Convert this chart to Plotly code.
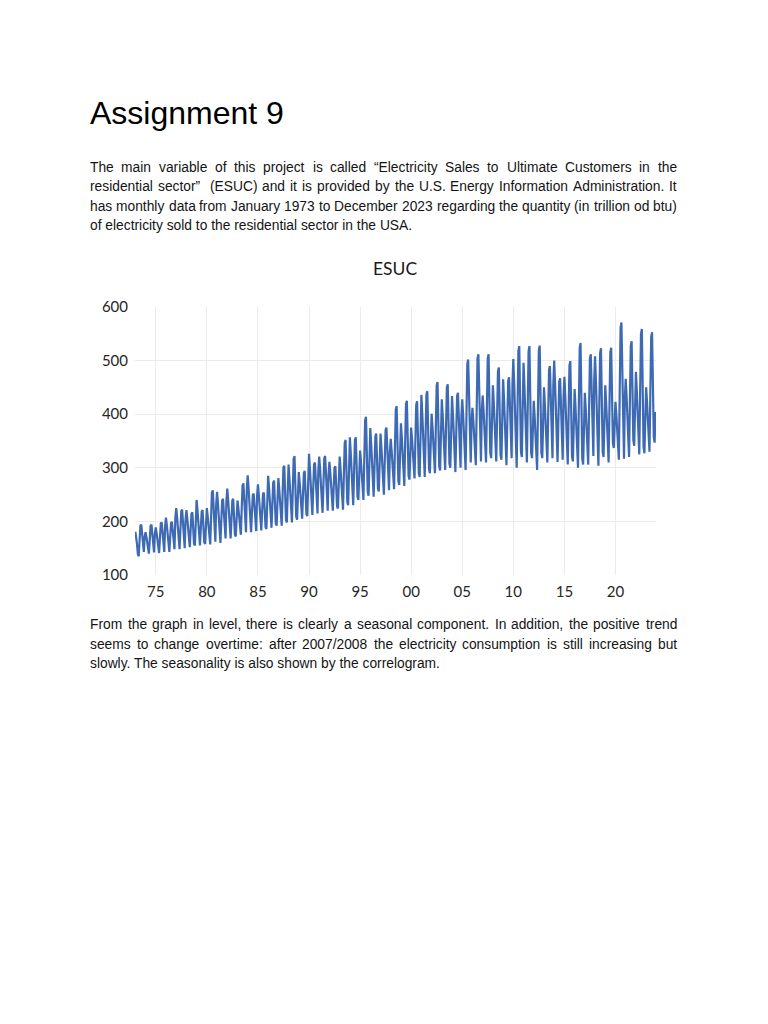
import pandas as pd
import plotly.graph_objects as go

# ---------------- data (monthly ESUC, trillion Btu) ----------------
esuc_1973_1979 = [
    181, 171, 158, 139, 135, 164, 192, 194, 175, 146, 143, 171,
    180, 171, 160, 143, 140, 167, 192, 194, 174, 145, 142, 177,
    189, 178, 165, 145, 141, 170, 196, 198, 177, 146, 143, 191,
    207, 193, 175, 148, 143, 171, 197, 199, 180, 151, 148, 206,
    225, 208, 186, 154, 148, 185, 219, 222, 195, 154, 150, 203,
    221, 206, 186, 158, 152, 184, 214, 217, 193, 158, 155, 219,
    240, 221, 197, 162, 155, 188, 218, 221, 197, 161, 158, 208,
]
esuc_1980_1989 = [
    225, 210, 191, 162, 157, 207, 254, 258, 222, 167, 162, 232,
    255, 234, 207, 168, 160, 201, 239, 242, 214, 172, 168, 238,
    261, 241, 214, 175, 168, 205, 239, 242, 215, 175, 172, 222,
    239, 225, 207, 180, 175, 223, 267, 271, 236, 185, 180, 260,
    286, 263, 233, 188, 180, 216, 249, 252, 225, 186, 182, 247,
    269, 250, 226, 190, 183, 219, 251, 254, 228, 189, 186, 260,
    285, 264, 237, 196, 188, 232, 272, 276, 244, 196, 192, 259,
    281, 261, 237, 199, 192, 248, 300, 304, 264, 203, 198, 279,
    306, 282, 252, 207, 198, 260, 317, 322, 277, 209, 203, 270,
    292, 273, 249, 212, 205, 250, 290, 294, 262, 214, 210, 297,
]
esuc_1990_1999 = [
    326, 301, 269, 221, 212, 261, 306, 310, 274, 220, 215, 295,
    321, 298, 269, 224, 216, 269, 318, 322, 283, 225, 220, 288,
    311, 291, 266, 227, 220, 262, 300, 303, 273, 228, 224, 297,
    321, 299, 272, 230, 222, 287, 347, 352, 306, 236, 230, 325,
    357, 329, 294, 240, 230, 294, 352, 357, 313, 246, 240, 309,
    332, 312, 286, 247, 240, 318, 389, 395, 339, 255, 248, 343,
    374, 346, 310, 256, 246, 305, 359, 364, 323, 261, 256, 337,
    364, 339, 307, 259, 250, 313, 370, 375, 331, 264, 258, 330,
    354, 333, 307, 268, 260, 338, 409, 415, 359, 275, 268, 354,
    383, 357, 325, 275, 266, 346, 419, 425, 369, 285, 278, 351,
]
esuc_2000_2009 = [
    375, 354, 328, 288, 280, 352, 418, 424, 370, 290, 283, 398,
    436, 402, 360, 295, 283, 363, 437, 443, 385, 298, 290, 373,
    401, 377, 346, 299, 290, 375, 453, 460, 397, 303, 295, 395,
    428, 399, 362, 307, 296, 376, 450, 456, 397, 308, 300, 400,
    434, 403, 363, 303, 292, 366, 434, 440, 387, 307, 300, 396,
    428, 399, 362, 307, 296, 399, 494, 502, 429, 320, 310, 387,
    412, 388, 359, 314, 305, 409, 504, 512, 436, 322, 312, 404,
    435, 408, 373, 320, 310, 411, 504, 512, 438, 328, 318, 420,
    454, 423, 383, 323, 312, 400, 480, 487, 422, 324, 315, 428,
    465, 430, 385, 318, 305, 387, 462, 469, 412, 326, 318, 457,
]
esuc_2010_2019 = [
    503, 458, 402, 316, 300, 414, 518, 527, 448, 330, 320, 452,
    496, 455, 403, 325, 310, 419, 518, 527, 448, 328, 318, 398,
    425, 397, 361, 306, 296, 412, 519, 528, 448, 328, 318, 417,
    450, 419, 380, 321, 310, 400, 483, 490, 425, 327, 318, 455,
    500, 458, 406, 326, 311, 389, 461, 467, 409, 323, 315, 431,
    470, 434, 388, 319, 306, 403, 491, 499, 428, 321, 312, 413,
    447, 415, 374, 312, 300, 417, 524, 533, 447, 317, 306, 407,
    440, 411, 373, 317, 306, 409, 504, 512, 440, 332, 322, 462,
    508, 463, 406, 320, 304, 414, 514, 523, 446, 330, 320, 420,
    454, 422, 382, 322, 310, 417, 515, 524, 453, 346, 337, 402,
]
esuc_2020_2023 = [
    423, 399, 369, 324, 315, 443, 561, 571, 474, 330, 317, 429,
    466, 434, 393, 332, 320, 428, 527, 536, 462, 351, 341, 445,
    479, 445, 402, 337, 325, 442, 550, 559, 471, 339, 327, 419,
    450, 424, 390, 340, 330, 442, 544, 553, 475, 357, 347, 404,
]

x_tick_years = [1975, 1980, 1985, 1990, 1995, 2000, 2005, 2010, 2015, 2020]
x_tick_labels = ["75", "80", "85", "90", "95", "00", "05", "10", "15", "20"]
y_tick_values = [100, 200, 300, 400, 500, 600]
y_grid_values = [200, 300, 400, 500]

page_title = "Assignment 9"
intro_lines = [
    "The main variable of this project is called \u201cElectricity Sales to Ultimate Customers in the",
    "residential sector\u201d  (ESUC) and it is provided by the U.S. Energy Information Administration. It",
    "has monthly data from January 1973 to December 2023 regarding the quantity (in trillion od btu)",
    "of electricity sold to the residential sector in the USA.",
]
outro_lines = [
    "From the graph in level, there is clearly a seasonal component. In addition, the positive trend",
    "seems to change overtime: after 2007/2008 the electricity consumption is still increasing but",
    "slowly. The seasonality is also shown by the correlogram.",
]
chart_title = "ESUC"

# ---------------- build ----------------
esuc = (esuc_1973_1979 + esuc_1980_1989 + esuc_1990_1999 +
        esuc_2000_2009 + esuc_2010_2019 + esuc_2020_2023)
months = pd.date_range("1973-01-01", periods=len(esuc), freq="MS")

BODY_MARGIN = 8  # the html page body offsets the figure by 8px
FIG_W, FIG_H = 768 - BODY_MARGIN, 1024 - BODY_MARGIN
# plot area in screen (page) pixels
PLOT_L, PLOT_R, PLOT_T, PLOT_B = 135, 656, 307, 575


def pxx(px):
    return (px - PLOT_L) / (PLOT_R - PLOT_L)


def pxy(py):
    return (PLOT_B - py) / (PLOT_B - PLOT_T)


# Arial / Liberation Sans advance widths (per 1000 em)
AW = {' ': 278, '!': 278, '"': 355, '(': 333, ')': 333, ',': 278, '-': 333, '.': 278,
      '/': 278, ':': 278, ';': 278, '\u201c': 333, '\u201d': 333, "'": 191, '\u2019': 222}
for d in "0123456789":
    AW[d] = 556
AW.update(dict(zip("ABCDEFGHIJKLMNOPQRSTUVWXYZ",
                   [667, 667, 722, 722, 667, 611, 778, 722, 278, 500, 667, 556, 833, 722,
                    778, 667, 778, 722, 667, 611, 722, 667, 944, 667, 667, 611])))
AW.update(dict(zip("abcdefghijklmnopqrstuvwxyz",
                   [556, 556, 500, 556, 556, 278, 556, 556, 222, 222, 500, 222, 833, 556,
                    556, 556, 556, 333, 500, 278, 556, 500, 722, 500, 500, 500])))


def text_w(s, size):
    return sum(AW.get(c, 556) for c in s) * size / 1000.0


BODY_FONT = dict(family="Liberation Sans, Arial, sans-serif", size=13.8, color="#141414")
annotations = []


def add_text(text, x_px, cy_px, font, xanchor="left"):
    annotations.append(dict(text=text, x=pxx(x_px), y=pxy(cy_px), xref="paper", yref="paper",
                            xanchor=xanchor, yanchor="middle", showarrow=False,
                            font=font, borderpad=0, borderwidth=0))


def add_justified(line, cy_px, font, x0, x1):
    words = line.split(" ")
    widths = [text_w(w, font["size"]) for w in words]
    gap = (x1 - x0 - sum(widths)) / (len(words) - 1)
    x = x0
    for w, wd in zip(words, widths):
        if w:
            add_text(w, x, cy_px, font)
        x += wd + gap


TEXT_L, TEXT_R = 90, 677

add_text(page_title, TEXT_L, 113, dict(family="Liberation Sans, Arial, sans-serif", size=32, color="#000000"))

intro_y = [167, 186.5, 206, 225.5]
for i, (line, cy) in enumerate(zip(intro_lines, intro_y)):
    if i < len(intro_lines) - 1:
        add_justified(line, cy, BODY_FONT, TEXT_L, TEXT_R)
    else:
        add_text(line, TEXT_L, cy, BODY_FONT)

outro_y = [624.5, 644, 663.5]
for i, (line, cy) in enumerate(zip(outro_lines, outro_y)):
    if i < len(outro_lines) - 1:
        add_justified(line, cy, BODY_FONT, TEXT_L, TEXT_R)
    else:
        add_text(line, TEXT_L, cy, BODY_FONT)

add_text(chart_title, 395, 268, dict(family="Lato, sans-serif", size=17.5, color="#1a1a1a"), xanchor="center")

fig = go.Figure()
fig.add_trace(go.Scatter(x=months, y=esuc, mode="lines",
                         line=dict(color="#3d6ab3", width=2.2), showlegend=False,
                         hoverinfo="skip"))

tick_font = dict(family="Lato, sans-serif", size=15, color="#262626")
fig.update_layout(
    width=FIG_W, height=FIG_H, autosize=False,
    margin=dict(l=PLOT_L - BODY_MARGIN, r=FIG_W - (PLOT_R - BODY_MARGIN),
                t=PLOT_T - BODY_MARGIN, b=FIG_H - (PLOT_B - BODY_MARGIN), pad=0),
    paper_bgcolor="#ffffff", plot_bgcolor="#ffffff",
    xaxis=dict(type="date", range=["1972-12-20", "2023-12-20"],
               tickmode="array", tickvals=[f"{y}-01-01" for y in x_tick_years],
               ticktext=x_tick_labels, showgrid=True, gridcolor="#ebebeb", gridwidth=1,
               zeroline=False, showline=False, ticks="", tickfont=tick_font,
               ticklabelstandoff=6),
    yaxis=dict(range=[100, 600], tickmode="array", tickvals=y_tick_values,
               showgrid=False, zeroline=False, showline=False, ticks="",
               tickfont=tick_font, ticklabelstandoff=6,
               minor=dict(tickmode="array", tickvals=y_grid_values, showgrid=True,
                          gridcolor="#ebebeb", gridwidth=1, ticks="")),
    annotations=annotations,
)

fig.write_html("out.html")
